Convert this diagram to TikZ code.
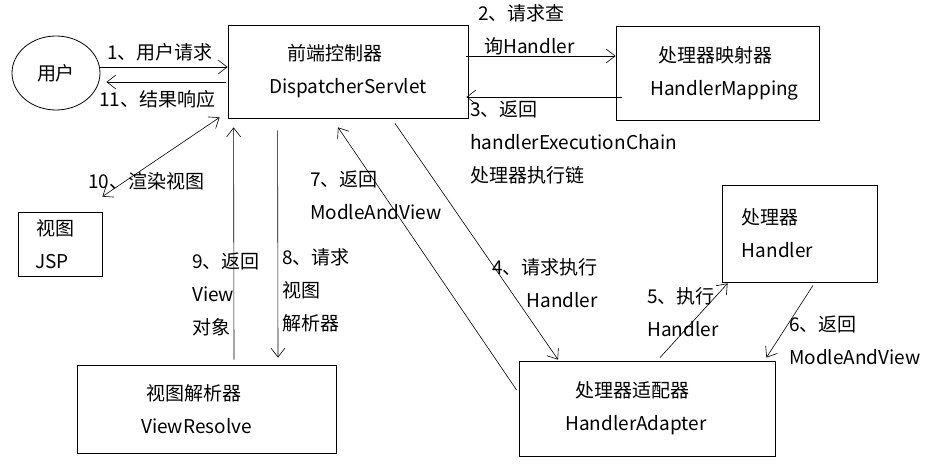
\documentclass[tikz,border=0pt]{standalone}
\usepackage{fontspec}
\setmainfont{Noto Sans CJK SC}
\usepackage{tikz}
\usetikzlibrary{shapes.geometric,arrows.meta,calc}

\begin{document}
\begin{tikzpicture}[x=1pt,y=-1pt,
        every node/.style={font=\fontsize{19}{33}\selectfont},
        box/.style={draw, rectangle, align=center, line width=0.8pt},
        lbl/.style={anchor=north west, align=left, inner sep=0pt},
        arr/.style={-{Straight Barb[length=9pt,width=14pt]}, line width=0.6pt},
        darr/.style={{Straight Barb[length=9pt,width=14pt]}-{Straight Barb[length=9pt,width=14pt]}, line width=0.6pt}]
    \useasboundingbox (0,0) rectangle (946,470);

    % components
    \node[ellipse, draw, line width=0.8pt, minimum width=88, minimum height=74] (user) at (56,73) {用户};
    \node[box, minimum width=240, minimum height=93] (ds) at (348,71.5)
        {\hspace*{-26pt}前端控制器\\DispatcherServlet};
    \node[box, minimum width=203, minimum height=94] (hm) at (717.5,73)
        {\hspace*{-4pt}处理器映射器\\\hspace*{14pt}HandlerMapping};
    \node[box, minimum width=155, minimum height=97] (h) at (799.5,233.5)
        {\hspace*{-60pt}处理器\\\hspace*{-44pt}Handler};
    \node[box, minimum width=256, minimum height=95] (ha) at (647,408.5)
        {\hspace*{-30pt}处理器适配器\\\hspace*{-22pt}HandlerAdapter};
    \node[box, minimum width=259, minimum height=88] (vr) at (206.5,409)
        {\hspace*{-26pt}视图解析器\\\hspace*{-20pt}ViewResolve};
    \node[box, minimum width=84, minimum height=64] (jsp) at (60,244)
        {\hspace*{-10pt}视图\\\hspace*{-16pt}JSP};

    % labels
    \node[lbl] (l1) at (107,43) {1、用户请求};
    \node[lbl] (l11) at (99,90) {11、结果响应};
    \node[lbl] (l2) at (478,4) {2、请求查\\\hspace*{6pt}询Handler};
    \node[lbl] (l3) at (470,101) {3、返回\\handlerExecutionChain\\处理器执行链};
    \node[lbl] (l10) at (88,172) {10、渲染视图};
    \node[lbl] (l7) at (310,171) {7、返回\\ModleAndView};
    \node[lbl] (l9) at (192,253) {9、返回\\View\\对象};
    \node[lbl] (l8) at (282,248) {8、请求\\视图\\解析器};
    \node[lbl, align=right, anchor=north east] (l4) at (598,258) {4、请求执行\\Handler};
    \node[lbl] (l5) at (647,287) {5、执行\\Handler};
    \node[lbl] (l6) at (789,316) {6、返回\\ModleAndView};

    % flow
    \draw[arr] ($(user.east)+(0,-6)$) -- ($(ds.west)+(0,-4.5)$);
    \draw[arr] ($(ds.west)+(-2,10.5)$) -- ($(user.east)+(6,9)$);
    \draw[arr] ($(ds.east)+(-2,-15.5)$) -- ($(hm.west)+(0,-17)$);
    \draw[arr] ($(hm.west)+(6,24)$) -- ($(ds.east)+(-2,25.5)$);
    \draw[arr] ($(ds.south)+(47,5)$) -- ($(ha.north)+(-89,-1)$);
    \draw[arr] ($(ha.north)+(13,-3)$) -- ($(h.south west)+(6,1)$);
    \draw[arr] ($(h.south)+(13.5,3)$) -- ($(ha.north east)+(-9,-3)$);
    \draw[arr] ($(ha.west)+(-2,-18.5)$) -- ($(ds.south)+(-10,9)$);
    \draw[arr] ($(ds.south west)+(50,12)$) -- ($(vr.north)+(71.5,-7)$);
    \draw[arr] ($(vr.north)+(27.5,-5)$) -- ($(ds.south west)+(6,9)$);
    \draw[darr] ($(ds.south west)+(-8,-1)$) -- ($(jsp.north east)+(0,-15)$);
\end{tikzpicture}
\end{document}
